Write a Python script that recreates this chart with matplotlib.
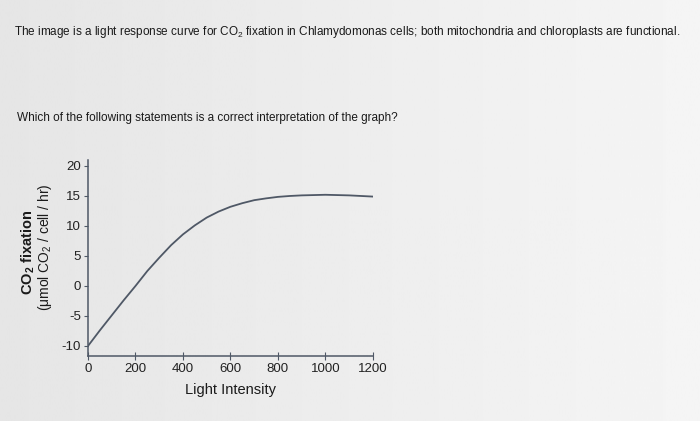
import numpy as np
import matplotlib
matplotlib.use("Agg")
import matplotlib.pyplot as plt

# light response curve
light = [0, 50, 100, 150, 200, 250, 300, 350, 400, 450, 500, 550, 600,
         650, 700, 750, 800, 850, 900, 950, 1000, 1050, 1100, 1150, 1200]
co2_fix = [-10, -7.4, -4.9, -2.4, 0.0, 2.5, 4.7, 6.8, 8.6, 10.1, 11.4, 12.4, 13.2,
           13.8, 14.3, 14.6, 14.85, 15.0, 15.1, 15.15, 15.2, 15.15, 15.1, 15.0, 14.9]

x_ticks = [0, 200, 400, 600, 800, 1000, 1200]
y_ticks = [-10, -5, 0, 5, 10, 15, 20]

plt.rcParams['font.family'] = ['Liberation Sans', 'DejaVu Sans']
plt.rcParams['mathtext.fontset'] = 'custom'
plt.rcParams['mathtext.rm'] = 'Liberation Sans'
plt.rcParams['mathtext.bf'] = 'Liberation Sans:bold'
plt.rcParams['axes.unicode_minus'] = False

fig = plt.figure(figsize=(7.0, 4.21), dpi=100)

# photo-like background, a bit darker on the left
bg = fig.add_axes([0, 0, 1, 1], zorder=-5)
grad = np.linspace(0.90, 0.96, 256).reshape(1, -1)
bg.imshow(grad, cmap='gray', vmin=0, vmax=1, aspect='auto', extent=[0, 1, 0, 1])
bg.axis('off')

fig.text(0.02, 0.917, "The image is a light response curve for CO$_2$ fixation in Chlamydomonas cells; "
         "both mitochondria and chloroplasts are functional.", fontsize=8.5, color='#1a1a1a')
fig.text(0.024, 0.713, "Which of the following statements is a correct interpretation of the graph?",
         fontsize=8.5, color='#1a1a1a')

ax = fig.add_axes([0.1257, 0.1544, 0.407, 0.4656])
ax.patch.set_alpha(0)
line_col = '#4f5866'
ax.plot(light, co2_fix, color=line_col, lw=1.3)

ax.set_xlim(0, 1200)
ax.set_ylim(-11.67, 21)
ax.set_xticks(x_ticks)
ax.set_yticks(y_ticks)
for s in ['top', 'right']:
    ax.spines[s].set_visible(False)
for s in ['left', 'bottom']:
    ax.spines[s].set_color(line_col)
    ax.spines[s].set_linewidth(1.1)
ax.tick_params(axis='x', direction='inout', length=6, color=line_col, labelsize=9.5,
               labelcolor='#222222', pad=2)
ax.tick_params(axis='y', direction='out', length=3, color=line_col, labelsize=9.5,
               labelcolor='#222222', pad=2)

ax.set_xlabel("Light Intensity", fontsize=10.5, color='#1a1a1a', labelpad=6)

fig.text(0.04, 0.40, r"$\mathbf{CO_2}$ fixation", rotation=90, fontsize=10.5,
         fontweight='bold', color='#1a1a1a', ha='center', va='center')
fig.text(0.064, 0.413, r"(μmol CO$_2$ / cell / hr)", rotation=90, fontsize=10,
         color='#1a1a1a', ha='center', va='center')

fig.savefig("out.png", dpi=100)
